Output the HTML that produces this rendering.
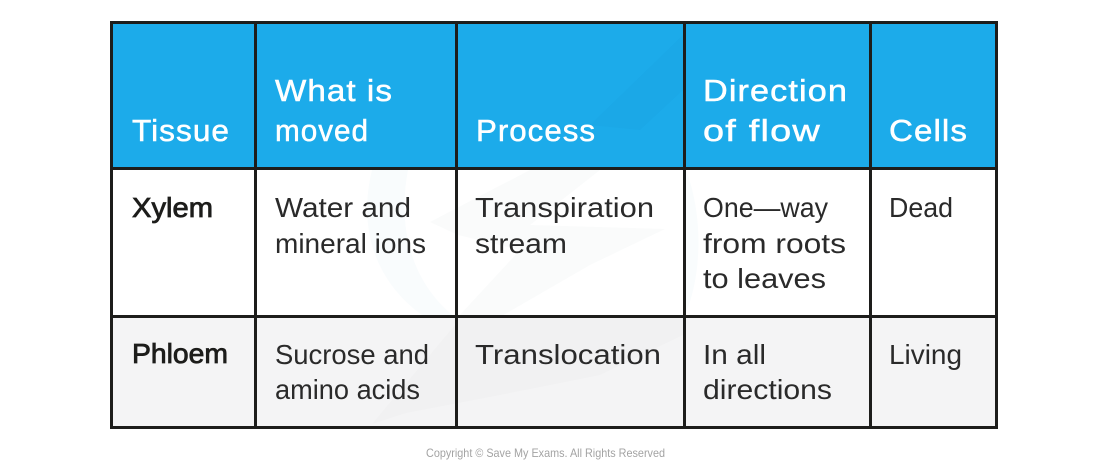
<!DOCTYPE html>
<html><head><meta charset="utf-8"><style>
html,body{margin:0;padding:0;background:#fff;width:1100px;height:475px;overflow:hidden}
svg{display:block}
text{font-family:"Liberation Sans",sans-serif}
.h{fill:#fff;font-size:31px;stroke:#fff;stroke-width:.5;letter-spacing:1px}
.b{fill:#2a2a2a;font-size:28px}
.k{fill:#1d1d1b;stroke:#1d1d1b;stroke-width:.8;font-size:28px}
</style></head><body>
<svg width="1100" height="475" viewBox="0 0 1100 475" xmlns="http://www.w3.org/2000/svg">
<rect x="111" y="23" width="886" height="145" fill="#1cabea"/>
<rect x="111" y="168" width="886" height="149" fill="#fff"/>
<rect x="111" y="317" width="886" height="110" fill="#f4f4f5"/>
<!-- watermark -->
<polygon points="590,125 683,35 683,90 640,130" fill="#1ba8e7"/>
<polygon points="430,222 530,170 600,170 530,225 665,229 590,265 500,317 458,317 520,250 458,235" fill="#fafbfb"/>
<path d="M372,170 C355,240 385,290 425,317 L455,317 C420,290 395,240 408,170Z" fill="#f9fcfd"/>
<path d="M686,170 C705,220 700,280 686,312 L686,170Z" fill="#f9fcfd"/>
<polygon points="372,424 455,325 455,318 683,318 683,335 600,375 500,395 406,413" fill="#f1f1f2"/>
<!-- grid -->
<g fill="#1d1d1b">
<rect x="110" y="21" width="888" height="3"/>
<rect x="110" y="167" width="888" height="3"/>
<rect x="110" y="315" width="888" height="3"/>
<rect x="110" y="426" width="888" height="3"/>
<rect x="110" y="21" width="3" height="408"/>
<rect x="254" y="21" width="3" height="408"/>
<rect x="455" y="21" width="3" height="408"/>
<rect x="683" y="21" width="3" height="408"/>
<rect x="869" y="21" width="3" height="408"/>
<rect x="995" y="21" width="3" height="408"/>
</g>
<!-- header -->
<text class="h" x="132" y="141" textLength="98" lengthAdjust="spacingAndGlyphs">Tissue</text>
<text class="h" x="275" y="101" textLength="118" lengthAdjust="spacingAndGlyphs">What is</text>
<text class="h" x="275" y="141" textLength="94" lengthAdjust="spacingAndGlyphs">moved</text>
<text class="h" x="476" y="141" textLength="120" lengthAdjust="spacingAndGlyphs">Process</text>
<text class="h" x="703" y="101" textLength="145" lengthAdjust="spacingAndGlyphs">Direction</text>
<text class="h" x="703" y="141" textLength="118" lengthAdjust="spacingAndGlyphs">of flow</text>
<text class="h" x="889" y="141" textLength="79" lengthAdjust="spacingAndGlyphs">Cells</text>
<!-- row 1 -->
<text class="k" x="132" y="217" textLength="81" lengthAdjust="spacingAndGlyphs">Xylem</text>
<text class="b" x="275" y="217" textLength="136" lengthAdjust="spacingAndGlyphs">Water and</text>
<text class="b" x="275" y="253" textLength="151" lengthAdjust="spacingAndGlyphs">mineral ions</text>
<text class="b" x="475" y="217" textLength="179" lengthAdjust="spacingAndGlyphs">Transpiration</text>
<text class="b" x="475" y="253" textLength="92" lengthAdjust="spacingAndGlyphs">stream</text>
<text class="b" x="703" y="217" textLength="125" lengthAdjust="spacingAndGlyphs">One—way</text>
<text class="b" x="703" y="253" textLength="143" lengthAdjust="spacingAndGlyphs">from roots</text>
<text class="b" x="703" y="288" textLength="123" lengthAdjust="spacingAndGlyphs">to leaves</text>
<text class="b" x="889" y="217" textLength="64" lengthAdjust="spacingAndGlyphs">Dead</text>
<!-- row 2 -->
<text class="k" x="132" y="363" textLength="96" lengthAdjust="spacingAndGlyphs">Phloem</text>
<text class="b" x="275" y="364" textLength="154" lengthAdjust="spacingAndGlyphs">Sucrose and</text>
<text class="b" x="275" y="399" textLength="145" lengthAdjust="spacingAndGlyphs">amino acids</text>
<text class="b" x="475" y="364" textLength="186" lengthAdjust="spacingAndGlyphs">Translocation</text>
<text class="b" x="703" y="364" textLength="63" lengthAdjust="spacingAndGlyphs">In all</text>
<text class="b" x="703" y="399" textLength="129" lengthAdjust="spacingAndGlyphs">directions</text>
<text class="b" x="889" y="364" textLength="73" lengthAdjust="spacingAndGlyphs">Living</text>
<text x="426" y="457" textLength="239" lengthAdjust="spacingAndGlyphs" style="font-size:12px;fill:#a3a3a3">Copyright © Save My Exams. All Rights Reserved</text>
</svg>
</body></html>
